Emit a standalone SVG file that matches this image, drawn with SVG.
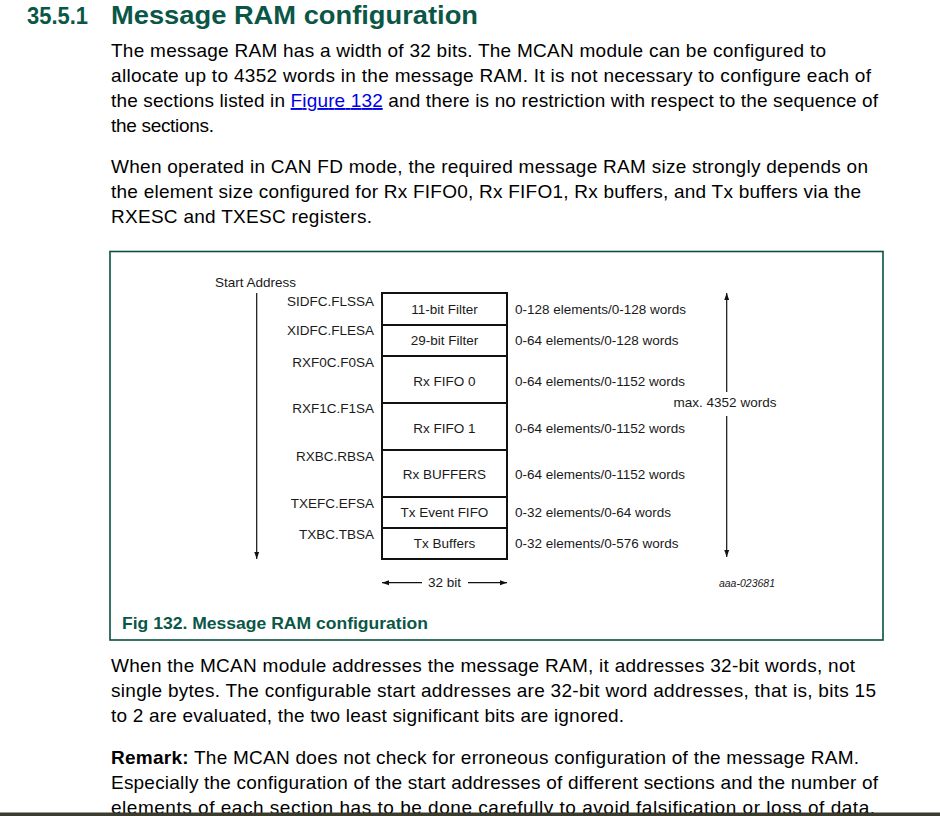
<svg xmlns="http://www.w3.org/2000/svg" width="940" height="816" viewBox="0 0 940 816">
<defs>
<style>
.body{font-family:"Liberation Sans",Arial,sans-serif;font-size:19px;fill:#000}
.head{font-family:"Liberation Sans",Arial,sans-serif;font-weight:bold;fill:#0b5747}
.lbl{font-family:"Liberation Sans",Arial,sans-serif;font-size:13.5px;fill:#1a1a1a}
.cell{fill:#fff;stroke:#111;stroke-width:2}
.ln{stroke:#111;stroke-width:1.2;fill:none}
</style>
<marker id="ah" viewBox="0 0 10 10" refX="10" refY="5" markerWidth="7" markerHeight="7" markerUnits="userSpaceOnUse" orient="auto-start-reverse">
<path d="M0,1.5 L10,5 L0,8.5 z" fill="#111"/>
</marker>
</defs>
<rect width="940" height="816" fill="#fff"/>

<g id="heading">
<text class="head" x="27" y="24" font-size="24" textLength="61" lengthAdjust="spacingAndGlyphs">35.5.1</text>
<text class="head" x="111" y="24" font-size="25" textLength="367" lengthAdjust="spacingAndGlyphs">Message RAM configuration</text>
</g>

<g id="para1" class="body">
<text x="111" y="57" textLength="715">The message RAM has a width of 32 bits. The MCAN module can be configured to</text>
<text x="111" y="82" textLength="760">allocate up to 4352 words in the message RAM. It is not necessary to configure each of</text>
<text x="111" y="107" textLength="767">the sections listed in <tspan fill="#0000e6" text-decoration="underline">Figure 132</tspan> and there is no restriction with respect to the sequence of</text>
<text x="111" y="132" textLength="103">the sections.</text>
</g>

<g id="para2" class="body">
<text x="111" y="173" textLength="757">When operated in CAN FD mode, the required message RAM size strongly depends on</text>
<text x="111" y="198" textLength="750">the element size configured for Rx FIFO0, Rx FIFO1, Rx buffers, and Tx buffers via the</text>
<text x="111" y="223" textLength="261">RXESC and TXESC registers.</text>
</g>

<g id="figure-frame">
<rect x="110" y="251.5" width="773" height="388.5" fill="none" stroke="#0b4f40" stroke-width="1.6"/>
<text class="head" x="122" y="629" font-size="16.5" textLength="306" lengthAdjust="spacingAndGlyphs">Fig 132. Message RAM configuration</text>
</g>

<g id="addr-labels" class="lbl" text-anchor="end">
<text x="215" y="287" text-anchor="start">Start Address</text>
<text x="374" y="306">SIDFC.FLSSA</text>
<text x="374" y="335">XIDFC.FLESA</text>
<text x="374" y="367">RXF0C.F0SA</text>
<text x="374" y="413">RXF1C.F1SA</text>
<text x="374" y="461">RXBC.RBSA</text>
<text x="374" y="508">TXEFC.EFSA</text>
<text x="374" y="539">TXBC.TBSA</text>
</g>

<g id="ram" class="lbl" text-anchor="middle">
<g id="n-11bit"><rect class="cell" x="382" y="293" width="125" height="32"/><text x="444.5" y="314">11-bit Filter</text></g>
<g id="n-29bit"><rect class="cell" x="382" y="325" width="125" height="31"/><text x="444.5" y="345">29-bit Filter</text></g>
<g id="n-rxfifo0"><rect class="cell" x="382" y="356" width="125" height="47"/><text x="444.5" y="386">Rx FIFO 0</text></g>
<g id="n-rxfifo1"><rect class="cell" x="382" y="403" width="125" height="47"/><text x="444.5" y="433">Rx FIFO 1</text></g>
<g id="n-rxbuf"><rect class="cell" x="382" y="450" width="125" height="47"/><text x="444.5" y="479">Rx BUFFERS</text></g>
<g id="n-txevent"><rect class="cell" x="382" y="497" width="125" height="31"/><text x="444.5" y="517">Tx Event FIFO</text></g>
<g id="n-txbuf"><rect class="cell" x="382" y="528" width="125" height="31"/><text x="444.5" y="548">Tx Buffers</text></g>
</g>

<g id="sizes" class="lbl">
<text x="515" y="314">0-128 elements/0-128 words</text>
<text x="515" y="345">0-64 elements/0-128 words</text>
<text x="515" y="386">0-64 elements/0-1152 words</text>
<text x="515" y="433">0-64 elements/0-1152 words</text>
<text x="515" y="479">0-64 elements/0-1152 words</text>
<text x="515" y="517">0-32 elements/0-64 words</text>
<text x="515" y="548">0-32 elements/0-576 words</text>
<text x="725" y="407" text-anchor="middle">max. 4352 words</text>
<text x="444.5" y="587" text-anchor="middle">32 bit</text>
<text x="775" y="587" text-anchor="end" font-size="10.5" font-style="italic">aaa-023681</text>
</g>

<g id="connectors">
<line class="ln" x1="256.7" y1="293" x2="256.7" y2="559" marker-end="url(#ah)"/>
<line class="ln" x1="726.7" y1="392" x2="726.7" y2="293" marker-end="url(#ah)"/>
<line class="ln" x1="726.7" y1="416" x2="726.7" y2="557" marker-end="url(#ah)"/>
<line class="ln" x1="422" y1="582.7" x2="382" y2="582.7" marker-end="url(#ah)"/>
<line class="ln" x1="468" y1="582.7" x2="507" y2="582.7" marker-end="url(#ah)"/>
</g>

<g id="para3" class="body">
<text x="111" y="672" textLength="744">When the MCAN module addresses the message RAM, it addresses 32-bit words, not</text>
<text x="111" y="697" textLength="765">single bytes. The configurable start addresses are 32-bit word addresses, that is, bits 15</text>
<text x="111" y="722" textLength="513">to 2 are evaluated, the two least significant bits are ignored.</text>
</g>

<g id="para4" class="body">
<text x="111" y="764" textLength="748"><tspan font-weight="bold">Remark:</tspan> The MCAN does not check for erroneous configuration of the message RAM.</text>
<text x="111" y="789" textLength="767">Especially the configuration of the start addresses of different sections and the number of</text>
<text x="111" y="814" textLength="764">elements of each section has to be done carefully to avoid falsification or loss of data.</text>
</g>

<rect id="bottom-bar" x="0" y="812.5" width="940" height="3.5" fill="#3b3b2e"/>
</svg>
